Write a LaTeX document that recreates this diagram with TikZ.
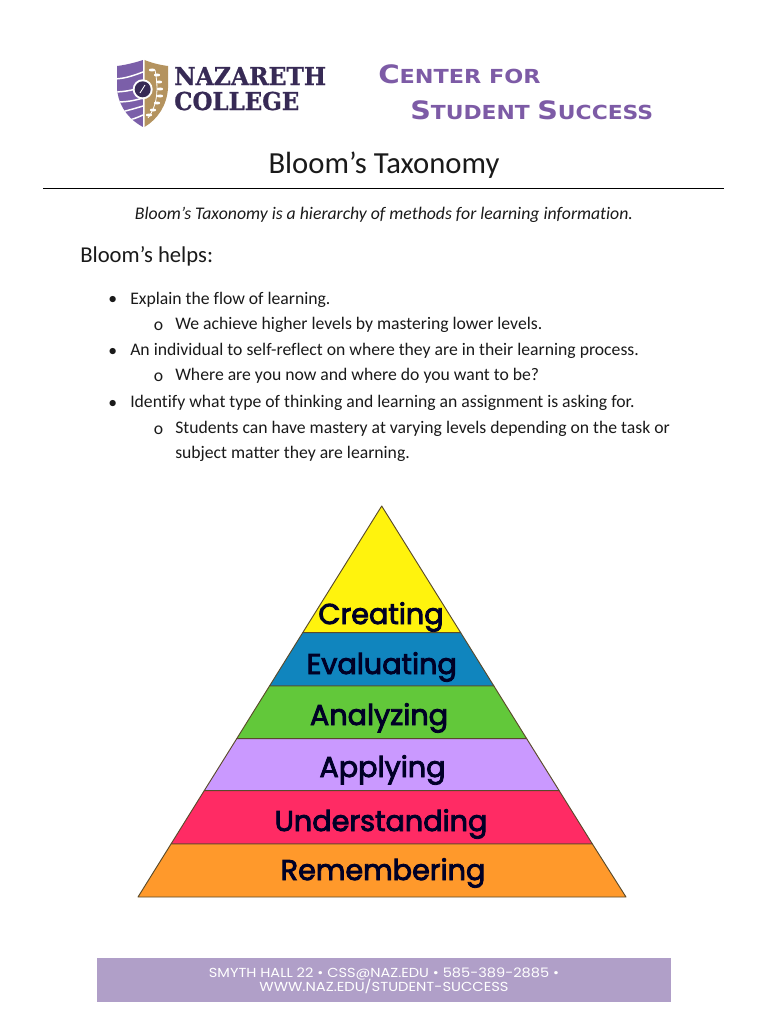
\documentclass[tikz,border=0pt]{standalone}
\usepackage{fontspec}
\usepackage{graphicx}
\setmainfont[RawFeature={-liga;-clig;-dlig;-calt}]{Carlito}
\newfontfamily\popf[FakeBold=3]{Poppins}
\newfontfamily\footf{Poppins}
\newfontfamily\slabf[FakeBold=0.8]{DejaVu Serif Bold}
\newfontfamily\capf{DejaVu Sans}
\definecolor{ink}{HTML}{1A1A1A}
\definecolor{logodark}{HTML}{372A55}
\definecolor{logopurple}{HTML}{7B5FA9}
\definecolor{logogold}{HTML}{B4935F}
\definecolor{headpurple}{HTML}{7D5BA6}
\definecolor{footbar}{HTML}{B09FC8}
\definecolor{edge}{HTML}{5A4A2A}
\tikzset{
  x=0.75pt,y=-0.75pt,
  body/.style={anchor=base west,inner sep=0pt,font=\fontsize{13.25}{15}\selectfont,text=ink},
  band/.style={draw=edge,line width=0.7pt,line join=round},
  level/.style={inner sep=0pt,anchor=base,text=black!85!blue,font=\popf\fontsize{21.5}{23}\selectfont},
  headcap/.style={anchor=base west,inner sep=0pt,text=headpurple,font=\capf\bfseries},
  logotext/.style={anchor=base west,inner sep=0pt,text=logodark,font=\slabf\fontsize{18.5}{19}\selectfont},
  foot/.style={inner sep=0pt,anchor=base,text=white,font=\footf\fontsize{9.8}{11}\selectfont},
}
\begin{document}
\begin{tikzpicture}
\useasboundingbox (0,0) rectangle (768,1024);
\fill[white] (0,0) rectangle (768,1024);

% logo shield
\begin{scope}
  \clip (143,60) .. controls (134,63) and (125,65) .. (117,66) -- (117,88)
        .. controls (118,105) and (128,119) .. (143,127) -- cycle;
  \fill[logopurple] (110,55) rectangle (143,130);
  \draw[white,line width=1.1pt] (112,79) .. controls (122,79) and (130,77) .. (143,72);
  \draw[white,line width=1.1pt] (112,92) .. controls (122,92) and (130,91) .. (143,87);
  \draw[white,line width=1.1pt] (112,102) .. controls (122,102) and (130,102) .. (143,98);
  \draw[white,line width=1.1pt] (112,114) .. controls (122,112) and (130,110) .. (143,106);
  \draw[white,line width=1.1pt] (112,122) .. controls (122,122) and (130,121) .. (143,115);
\end{scope}
\fill[logogold] (144.5,60) .. controls (152,63) and (160,65) .. (168,66) -- (168,88)
      .. controls (167,105) and (158,119) .. (144.5,127) -- cycle;
\foreach \a/\b in {152/70,157/75,159/82,160/89,160/96,157/103,153/110,149/115}
  \fill[white] (\a,\b) ellipse (3.2 and 1.5);
\draw[white,line width=0.6pt] (155,70) .. controls (159,90) and (157,106) .. (148,118);
\fill[white] (142.7,89.3) circle (10);
\fill[logodark] (142.7,89.3) circle (8);
\draw[white,line width=0.6pt] (140,93) -- (145,85);
\node[logotext] (nazareth) at (174,85) {\scalebox{0.95}[1]{NAZARETH}};
\node[logotext] (college) at (174,110) {\scalebox{0.93}[1]{COLLEGE}};

% heading
\node[headcap] (center) at (378,84)
  {\scalebox{1.155}[1]{{\fontsize{19}{20}\selectfont C}{\fontsize{14.5}{15}\selectfont ENTER FOR}}};
\node[headcap] (student) at (410,119)
  {\scalebox{1.13}[1]{{\fontsize{19}{20}\selectfont S}{\fontsize{14.5}{15}\selectfont TUDENT }{\fontsize{19}{20}\selectfont S}{\fontsize{14.5}{15}\selectfont UCCESS}}};

\node[inner sep=0pt,anchor=base,text=ink,font=\fontsize{23}{25}\selectfont] (title) at (384,173) {Bloom’s Taxonomy};
\coordinate (ruleL) at (43,188);
\coordinate (ruleR) at (724,188);
\draw[black,line width=0.6pt] (ruleL) -- (ruleR);
\node[body,anchor=base,font=\itshape\fontsize{13.3}{15}\selectfont] (intro) at (384,219)
  {Bloom’s Taxonomy is a hierarchy of methods for learning information.};
\node[body,font=\fontsize{17}{19}\selectfont] (helps) at (80,262) {Bloom’s helps:};

% list
\node[body] (b1) at (108,304) {•};
\node[body] (t1) at (130,304) {Explain the flow of learning.};
\node[body] (o1) at (153.5,330) {o};
\node[body] (t2) at (175,329) {We achieve higher levels by mastering lower levels.};
\node[body] (b2) at (108,356) {•};
\node[body] (t3) at (130,355.5) {An individual to self-reflect on where they are in their learning process.};
\node[body] (o2) at (153.5,381) {o};
\node[body] (t4) at (175,380) {Where are you now and where do you want to be?};
\node[body] (b3) at (108,408) {•};
\node[body] (t5) at (130,407) {Identify what type of thinking and learning an assignment is asking for.};
\node[body] (o3) at (153.5,434) {o};
\node[body] (t6) at (175,433) {Students can have mastery at varying levels depending on the task or};
\node[body] (t7) at (175,458) {subject matter they are learning.};

% pyramid
\fill[yellow!95!white,draw=edge,line width=0.7pt,line join=round] (381.7,506) -- (460.7,632.7) -- (302.7,632.7) -- cycle;
\filldraw[band,fill={rgb,255:red,16;green,133;blue,190}] (302.7,632.7) -- (460.7,632.7) -- (493.9,686) -- (269.5,686) -- cycle;
\filldraw[band,fill={rgb,255:red,98;green,200;blue,58}] (269.5,686) -- (493.9,686) -- (526.7,738.7) -- (236.7,738.7) -- cycle;
\filldraw[band,fill={rgb,255:red,202;green,153;blue,255}] (236.7,738.7) -- (526.7,738.7) -- (559.2,790.7) -- (204.2,790.7) -- cycle;
\filldraw[band,fill={rgb,255:red,255;green,43;blue,100}] (204.2,790.7) -- (559.2,790.7) -- (592.4,844) -- (171,844) -- cycle;
\filldraw[band,fill={rgb,255:red,255;green,153;blue,43}] (171,844) -- (592.4,844) -- (626,897) -- (138,897) -- cycle;
\node[level] (creating) at (381,624) {Creating};
\node[level] (evaluating) at (381.7,674) {Evaluating};
\node[level] (analyzing) at (379,725) {Analyzing};
\node[level] (applying) at (382.5,777) {Applying};
\node[level] (understanding) at (381,831) {Understanding};
\node[level] (remembering) at (383,880) {Remembering};

% footer
\fill[footbar] (97,958) rectangle (671,1002);
\node[foot] (f1) at (384,977.5) {\scalebox{1.115}[1]{SMYTH HALL 22 • CSS@NAZ.EDU • 585-389-2885 •}};
\node[foot] (f2) at (384,991.5) {\scalebox{1.125}[1]{WWW.NAZ.EDU/STUDENT-SUCCESS}};
\end{tikzpicture}
\end{document}
